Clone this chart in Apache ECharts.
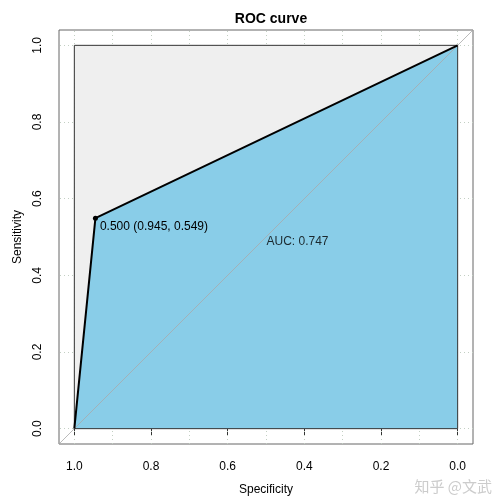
<!DOCTYPE html>
<html>
<head>
<meta charset="utf-8">
<script src="https://cdn.jsdelivr.net/npm/echarts@6/dist/echarts.min.js"></script>
<style>
  html, body { margin: 0; padding: 0; background: #fff; }
  #main { width: 504px; height: 504px; }
</style>
</head>
<body>
<div id="main"></div>
<script>
const e = sel => document.querySelector(sel)

// ROC curve points: [specificity, sensitivity]
const rocPoints = [[1.0, 0.0], [0.945, 0.549], [0.0, 1.0]]
const bestPoint = [0.945, 0.549]
const bestLabel = '0.500 (0.945, 0.549)'
const aucText = 'AUC: 0.747'
const aucPos = [0.5, 0.5]
// full square drawn in grey, and its outline
const squareTop = [[1.0, 1.0], [0.0, 1.0]]
const squareEdge = [[1.0, 0.0], [1.0, 1.0], [0.0, 1.0], [0.0, 0.0], [1.0, 0.0]]
// chance diagonal across the box
const diagonal = [[1.04, -0.04], [-0.04, 1.04]]
const xTicks = [1.0, 0.8, 0.6, 0.4, 0.2, 0.0]
const yTicks = [0.0, 0.2, 0.4, 0.6, 0.8, 1.0]
const gridX = [0.0, 0.1, 0.2, 0.3, 0.4, 0.5, 0.6, 0.7, 0.8, 0.9, 1.0]
const gridY = [0.0, 0.2, 0.4, 0.6, 0.8, 1.0]
const lo = -0.04
const hi = 1.04

const font = 'Liberation Sans, Arial, Helvetica, sans-serif'

const __main = () => {
    let chart = echarts.init(e('#main'), null, { renderer: 'canvas' })
    let gridLines = gridX.map(v => ({ coords: [[v, lo], [v, hi]] }))
        .concat(gridY.map(v => ({ coords: [[lo, v], [hi, v]] })))
    let option = {
        animation: false,
        title: {
            text: 'ROC curve',
            left: 266,
            top: 7,
            textAlign: 'center',
            textStyle: { fontFamily: font, fontSize: 14, fontWeight: 'bold', color: '#000' },
        },
        grid: {
            left: 59, right: 31, top: 30, bottom: 60,
            containLabel: false,
            outerBoundsMode: 'none',
            show: true,
            borderColor: '#666',
            borderWidth: 1,
            backgroundColor: 'transparent',
        },
        xAxis: {
            type: 'value',
            inverse: true,
            min: lo,
            max: hi,
            name: 'Specificity',
            nameLocation: 'middle',
            nameGap: 40,
            nameTextStyle: { fontFamily: font, fontSize: 12, color: '#000' },
            axisLine: { show: false },
            axisTick: { show: true, customValues: xTicks, length: 7, lineStyle: { color: '#333' } },
            axisLabel: {
                customValues: xTicks,
                formatter: v => v.toFixed(1),
                margin: 17,
                fontFamily: font, fontSize: 12, color: '#000',
            },
            splitLine: { show: false },
        },
        yAxis: {
            type: 'value',
            min: lo,
            max: hi,
            name: 'Sensitivity',
            nameLocation: 'middle',
            nameGap: 35,
            nameTextStyle: { fontFamily: font, fontSize: 12, color: '#000' },
            axisLine: { show: false },
            axisTick: { show: true, customValues: yTicks, length: 7, lineStyle: { color: '#333' } },
            axisLabel: {
                customValues: yTicks,
                formatter: v => v.toFixed(1),
                rotate: 90,
                margin: 15,
                fontFamily: font, fontSize: 12, color: '#000',
            },
            splitLine: { show: false },
        },
        series: [
            {
                type: 'lines',
                coordinateSystem: 'cartesian2d',
                silent: true,
                z: 1,
                lineStyle: { color: '#c3cfc3', type: [1, 3], width: 1, opacity: 1 },
                data: gridLines,
            },
            {
                type: 'line',
                data: squareTop,
                symbol: 'none',
                z: 2,
                lineStyle: { width: 0 },
                areaStyle: { color: '#efefef', opacity: 1, origin: 'auto' },
            },
            {
                type: 'line',
                data: rocPoints,
                symbol: 'none',
                z: 3,
                lineStyle: { width: 0 },
                areaStyle: { color: '#89cde8', opacity: 1, origin: 'auto' },
            },
            {
                type: 'line',
                data: squareEdge,
                symbol: 'none',
                z: 4,
                lineStyle: { color: '#333', width: 1 },
            },
            {
                type: 'line',
                data: diagonal,
                symbol: 'none',
                clip: false,
                z: 4,
                lineStyle: { color: '#aaaaaa', width: 0.8 },
            },
            {
                type: 'line',
                data: rocPoints,
                symbol: 'none',
                z: 5,
                lineStyle: { color: '#000', width: 2 },
            },
            {
                type: 'scatter',
                data: [bestPoint],
                symbol: 'circle',
                symbolSize: 5,
                z: 10,
                itemStyle: { color: '#000', opacity: 1 },
                label: {
                    show: true,
                    position: 'right',
                    distance: 2,
                    offset: [0, 8],
                    formatter: bestLabel,
                    fontFamily: font, fontSize: 12, color: '#000',
                },
            },
            {
                type: 'scatter',
                data: [aucPos],
                symbol: 'circle',
                symbolSize: 1,
                z: 10,
                itemStyle: { color: 'transparent' },
                label: {
                    show: true,
                    position: 'right',
                    distance: 0,
                    offset: [0, 5],
                    formatter: aucText,
                    fontFamily: font, fontSize: 12, color: '#000',
                },
            },
        ],
        graphic: [
            {
                type: 'text',
                right: 12,
                top: 479,
                style: {
                    text: '知乎 @文武',
                    fontFamily: 'Noto Sans CJK SC, sans-serif',
                    fontSize: 15,
                    fill: '#cccccc',
                },
            },
        ],
    }
    chart.setOption(option)
}

__main()
</script>
</body>
</html>
